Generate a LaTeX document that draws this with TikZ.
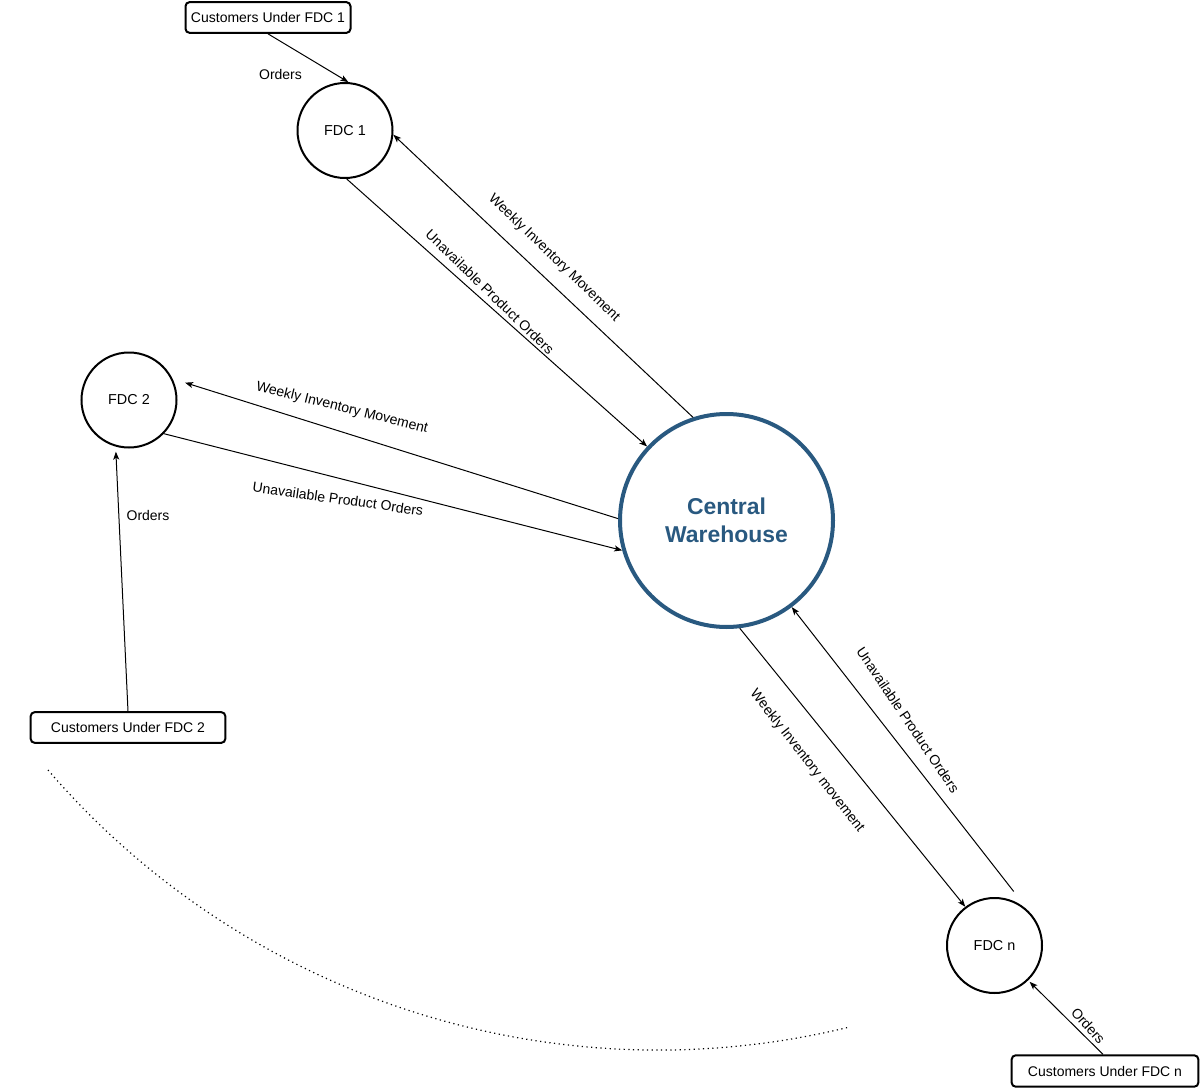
\documentclass[tikz,border=0pt]{standalone}
\usepackage{fontspec}
\setmainfont{Liberation Sans}
\usetikzlibrary{arrows.meta}
\definecolor{cwblue}{RGB}{41,89,128}
\tikzset{
  px/.style={x=0.75pt,y=0.75pt},
  custbox/.style={draw,line width=1.5pt,rounded corners=3pt,inner sep=0pt,
    font=\fontsize{10.5}{12}\selectfont},
  fdc/.style={draw,circle,line width=1.5pt,minimum size=71.25pt,inner sep=0pt,
    font=\fontsize{10.8}{13}\selectfont},
  central/.style={draw=cwblue,circle,line width=3pt,minimum size=159.75pt,inner sep=0pt,
    text=cwblue,align=center,font=\fontsize{17.2}{21}\selectfont\bfseries},
  conn/.style={line width=0.75pt,-{Stealth[length=6pt,width=4.5pt,inset=1.5pt]}},
  lbl/.style={inner sep=0pt,font=\fontsize{10.5}{12}\selectfont},
  dotarc/.style={line width=0.9pt,dash pattern=on 0.9pt off 2.6pt}
}
\begin{document}
\begin{tikzpicture}[px]
\useasboundingbox (0,0) rectangle (1200,-1088);
% nodes
\node[custbox,minimum width=123.75pt,minimum height=23pt] (c1) at (268,-17.5) {Customers Under FDC 1};
\node[custbox,minimum width=146pt,minimum height=23pt] (c2) at (128,-727.5) {Customers Under FDC 2};
\node[custbox,minimum width=140pt,minimum height=23.5pt] (cn) at (1105,-1071) {Customers Under FDC n};
\node[fdc] (fdc1) at (345,-130.5) {FDC 1};
\node[fdc] (fdc2) at (129,-400) {FDC 2};
\node[fdc] (fdcn) at (994.5,-945.5) {FDC n};
\node[central] (cw) at (726.5,-520.5) {Central\\Warehouse};
% connectors
\draw[conn] (c1.south) -- (fdc1.86);
\draw[conn] (fdc1.-88) -- (cw.137);
\draw[conn] (cw.108) -- (fdc1.-5);
\draw[conn,shorten >=9.8pt] (cw.179) -- (fdc2.26);
\draw[conn] (fdc2.-44) -- (cw.196);
\draw[conn,shorten >=3.8pt] (c2.north) -- (fdc2.-106);
\draw[conn] (cw.-83) -- (fdcn.127);
\draw[conn,shorten <=20.5pt] (fdcn.42) -- (cw.-53);
\draw[conn,shorten >=1.5pt] ([xshift=-1.5pt]cn.north) -- (fdcn.-46);
% labels
\node[lbl] (l1) at (280.5,-74) {Orders};
\node[lbl,rotate=-44] (l2) at (490,-292) {Unavailable Product Orders};
\node[lbl,rotate=-44] (l3) at (554,-258) {Weekly Inventory Movement};
\node[lbl,rotate=-14] (l4) at (342,-408) {Weekly Inventory Movement};
\node[lbl,rotate=-8] (l5) at (338,-499) {Unavailable Product Orders};
\node[lbl] (l6) at (148,-515.5) {Orders};
\node[lbl,rotate=-52] (l7) at (807,-761) {Weekly Inventory movement};
\node[lbl,rotate=-56] (l8) at (908,-720) {Unavailable Product Orders};
\node[lbl,rotate=-48] (l9) at (1088.3,-1025.7) {Orders};
% dotted arc
\draw[dotarc] (48,-770) arc[start angle=-139.3,end angle=-76.2,radius=603.75pt];
\end{tikzpicture}
\end{document}
